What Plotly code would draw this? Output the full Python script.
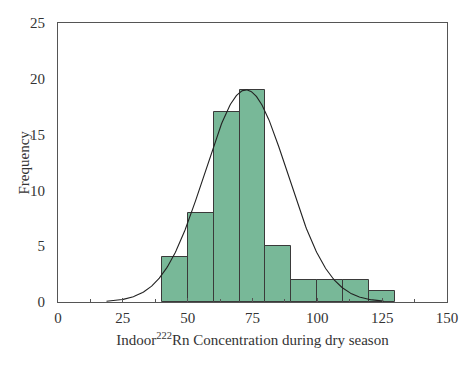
import numpy as np
import plotly.graph_objects as go

# Histogram data (bin left edges, width 10)
bin_left = [40, 50, 60, 70, 80, 90, 100, 110, 120]
counts = [4, 8, 17, 19, 5, 2, 2, 2, 1]
bin_width = 10

# Fitted normal curve parameters
curve_mean = 72.5
curve_sd = 16.0
curve_peak = 19.0
curve_start = 18.7
curve_end = 125.5

x_ticks = [0, 25, 50, 75, 100, 125, 150]
y_ticks = [0, 5, 10, 15, 20, 25]

bar_x = [b + bin_width / 2 for b in bin_left]
cx = np.linspace(curve_start, curve_end, 300)
cy = curve_peak * np.exp(-0.5 * ((cx - curve_mean) / curve_sd) ** 2)

fig = go.Figure()
fig.add_trace(go.Bar(
    x=bar_x, y=counts, width=bin_width,
    marker=dict(color="#78b898", line=dict(color="#3a3a3a", width=1)),
    showlegend=False, hoverinfo="x+y",
))
fig.add_trace(go.Scatter(
    x=cx, y=cy, mode="lines",
    line=dict(color="#222222", width=1.1),
    showlegend=False, hoverinfo="skip",
))

font_family = "Liberation Serif, Times New Roman, serif"
fig.update_layout(
    width=474, height=366,
    margin=dict(l=50, r=35, t=15, b=72, autoexpand=False),
    paper_bgcolor="white", plot_bgcolor="white",
    font=dict(family=font_family, size=15, color="#333333"),
    bargap=0,
    xaxis=dict(
        range=[0, 150], tickvals=x_ticks, ticktext=[str(v) for v in x_ticks],
        showgrid=False, zeroline=False,
        showline=True, mirror=True, linecolor="#555555", linewidth=1,
        ticks="inside", ticklen=4, tickwidth=1, tickcolor="#555555",
        minor=dict(dtick=12.5, tick0=0, ticks="inside", ticklen=3, tickcolor="#555555"),
        tickfont=dict(size=15), ticklabelstandoff=2,
        title=dict(text="Indoor<sup>222</sup>Rn Concentration during dry season",
                   font=dict(size=15), standoff=9),
    ),
    yaxis=dict(
        range=[0, 25], tickvals=y_ticks, ticktext=[str(v) for v in y_ticks],
        showgrid=False, zeroline=False,
        showline=True, mirror=True, linecolor="#555555", linewidth=1,
        ticks="", ticklabelstandoff=9,
        tickfont=dict(size=15),
    ),
    annotations=[dict(
        text="Frequency", textangle=-90, showarrow=False,
        xref="paper", yref="paper", x=0, y=0.5,
        xanchor="center", yanchor="middle", xshift=-35,
        font=dict(size=15, color="#333333"),
    )],
)

fig.write_html("out.html")
